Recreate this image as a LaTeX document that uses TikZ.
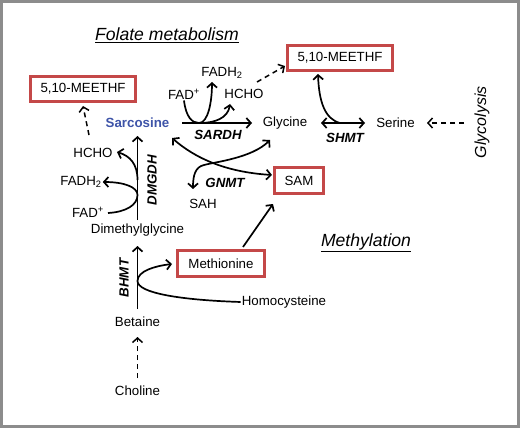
\documentclass[tikz,border=0pt]{standalone}
\usepackage{fontspec}
\setmainfont{Liberation Sans}
\usetikzlibrary{arrows.meta}
\definecolor{boxred}{RGB}{196,72,72}
\definecolor{sarcblue}{RGB}{62,84,168}
\definecolor{framegray}{RGB}{140,140,140}
\tikzset{
  lbl/.style={font=\fontsize{13.3}{15}\selectfont, inner sep=1pt},
  enz/.style={font=\fontsize{13.3}{15}\selectfont\bfseries\itshape, inner sep=1pt},
  ttl/.style={font=\fontsize{17.6}{20}\selectfont\itshape, inner sep=1pt},
  redbox/.style={draw=boxred, line width=2.6pt, fill=white, font=\fontsize{13.3}{15}\selectfont, inner sep=0pt},
  arr/.style={line width=1.7pt, -{Straight Barb[length=4.5pt,width=10pt]}},
  darr/.style={line width=1.7pt, {Straight Barb[length=4.5pt,width=10pt]}-{Straight Barb[length=4.5pt,width=10pt]}},
  dsh/.style={line width=1.5pt, dash pattern=on 5pt off 4pt, -{Straight Barb[length=4.5pt,width=10pt]}}
}
\begin{document}
\begin{tikzpicture}[x=1pt,y=-1pt]
\useasboundingbox (0,0) rectangle (520,428);
\draw[framegray, line width=3pt] (1.5,1.5) rectangle (518.5,426.5);

% titles
\node[ttl] (tfol) at (167,35) {\underline{Folate metabolism}};
\node[ttl] (tmet) at (366,243) {\underline{Methylation}};
\node[font=\fontsize{16}{18}\selectfont\itshape, rotate=90, inner sep=1pt] (glyco) at (482,122) {Glycolysis};

% boxes
\node[redbox, minimum width=105.4pt, minimum height=25.4pt] (boxL) at (83,89) {5,10-MEETHF};
\node[redbox, minimum width=105.4pt, minimum height=25.4pt] (boxR) at (340,58) {5,10-MEETHF};
\node[redbox, minimum width=49.4pt, minimum height=26.4pt] (sam) at (299,180.5) {SAM};
\node[redbox, minimum width=87.4pt, minimum height=26.4pt] (meth) at (221,263.5) {Methionine};

% metabolites
\node[font=\fontsize{13.3}{15}\selectfont\bfseries, text=sarcblue, inner sep=1pt] (sarc) at (137.5,123) {Sarcosine};
\node[lbl] (hchoL) at (93,153) {HCHO};
\node[lbl] (fadh2L) at (81,182) {FADH\textsubscript{2}};
\node[lbl] (fadL) at (88,212) {FAD\textsuperscript{+}};
\node[lbl] (fadU) at (184,94) {FAD\textsuperscript{+}};
\node[lbl] (fadh2U) at (222,73) {FADH\textsubscript{2}};
\node[lbl] (hchoU) at (244,94) {HCHO};
\node[lbl] (gly) at (285,123) {Glycine};
\node[lbl] (ser) at (395.5,123) {Serine};
\node[lbl] (sah) at (203,204) {SAH};
\node[lbl] (dmg) at (137.5,230) {Dimethylglycine};
\node[lbl] (hcy) at (284,302) {Homocysteine};
\node[lbl] (bet) at (137.5,322) {Betaine};
\node[lbl] (cho) at (137.5,391) {Choline};

% enzymes
\node[enz, rotate=90] (dmgdh) at (152,180) {DMGDH};
\node[enz] (sardh) at (218,135) {SARDH};
\node[enz] (shmt) at (345,138) {SHMT};
\node[enz] (gnmt) at (225,183) {GNMT};
\node[enz, rotate=90] (bhmt) at (124,278) {BHMT};

% helper coordinates
\coordinate (dmgUp) at (137.5,220);
\coordinate (sarcDown) at (137.5,136);
\coordinate (sarcR) at (182,123);
\coordinate (glyL) at (252,123);
\coordinate (glyR) at (321,123);
\coordinate (serL) at (365,123);
\coordinate (shmtMid) at (340,123);
\coordinate (boxRbot) at (318,74);
\coordinate (glycoL) at (464,123);
\coordinate (serR) at (427,123);
\coordinate (sarcSE) at (172,138);
\coordinate (samW) at (272,175);
\coordinate (glySW) at (270,140);
\coordinate (sahN) at (193,189);
\coordinate (methNE) at (243,247);
\coordinate (samS) at (273,204);
\coordinate (betUp) at (137.5,309);
\coordinate (dmgDown) at (137.5,246);
\coordinate (choUp) at (137.5,378);
\coordinate (betDown) at (137.5,337);
\coordinate (hchoLup) at (89,135);
\coordinate (boxLdn) at (83,106);

% DMGDH
\draw[arr] (dmgUp) -- (sarcDown);
\draw[arr] (108,213) .. controls (126,212) and (137.5,205) .. (137.5,195) .. controls (137.5,187) and (124,182) .. (fadh2L.east);
\draw[arr] (137.5,180) .. controls (137.5,164) and (130,156) .. (117,152);
\draw[dsh] (hchoLup) -- (boxLdn);

% SARDH
\draw[arr] (sarcR) -- (glyL);
\draw[arr] (fadU.south) .. controls (186,117) and (192,123) .. (199,123) .. controls (208,123) and (212,102) .. (212,82);
\draw[arr] (200,123) .. controls (215,123) and (228,118) .. (230,104);
\draw[dsh] (257,82) -- (285,66);

% SHMT
\draw[darr] (glyR) -- (serL);
\draw[arr] (shmtMid) .. controls (325,119) and (319,102) .. (boxRbot);
\draw[dsh] (glycoL) -- (serR);

% GNMT crossings
\draw[darr] (sarcSE) .. controls (195,158) and (225,172) .. (samW);
\draw[darr] (glySW) .. controls (252,158) and (215,162) .. (204,165) .. controls (195,167) and (193,176) .. (sahN);
\draw[arr] (methNE) -- (samS);

% BHMT
\draw[arr] (betUp) -- (dmgDown);
\draw[arr] (hcy.west) .. controls (180,300) and (137.5,293) .. (137.5,281) .. controls (137.5,271) and (155,266) .. (172,264);
\draw[dsh] (choUp) -- (betDown);
\end{tikzpicture}
\end{document}
